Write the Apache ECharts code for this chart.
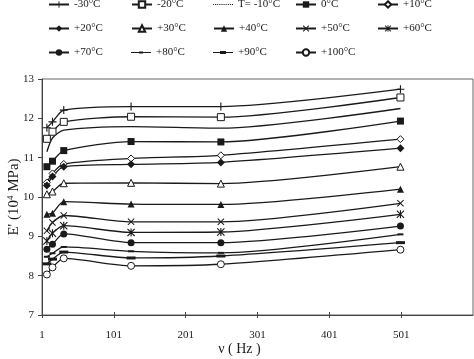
<!DOCTYPE html>
<html>
<head>
<meta charset="utf-8">
<script src="https://cdn.jsdelivr.net/npm/echarts@6/dist/echarts.min.js"></script>
<style>html,body{margin:0;padding:0;background:#fff}#c{width:474px;height:359px}</style>
</head>
<body>
<div id="c"></div>
<script>
// frequencies (Hz)
const freqs = [7.8, 15.6, 31.3, 125, 250, 500];
// E' values (10^4 MPa)
const m30 = [11.76, 11.91, 12.21, 12.30, 12.30, 12.74];
const m20 = [11.48, 11.66, 11.91, 12.04, 12.03, 12.53];
const m10 = [11.15, 11.50, 11.70, 11.79, 11.75, 12.25];
const t0  = [10.77, 10.91, 11.18, 11.41, 11.40, 11.93];
const p10 = [10.37, 10.60, 10.84, 10.98, 11.06, 11.47];
const p20 = [10.29, 10.52, 10.77, 10.83, 10.88, 11.24];
const p30 = [10.07, 10.14, 10.35, 10.36, 10.34, 10.77];
const p40 = [9.56, 9.59, 9.88, 9.82, 9.81, 10.20];
const p50 = [9.14, 9.35, 9.53, 9.37, 9.37, 9.84];
const p60 = [8.88, 9.08, 9.27, 9.10, 9.11, 9.56];
const p70 = [8.67, 8.80, 9.06, 8.84, 8.84, 9.26];
const p80 = [8.48, 8.57, 8.73, 8.62, 8.58, 9.05];
const p90 = [8.30, 8.42, 8.60, 8.45, 8.50, 8.84];
const p100 = [8.03, 8.21, 8.44, 8.25, 8.29, 8.66];
const xTickLabels = [1, 101, 201, 301, 401, 501];
const names = ['-30°C','-20°C','T= -10°C','0°C','+10°C','+20°C','+30°C','+40°C','+50°C','+60°C','+70°C','+80°C','+90°C','+100°C'];
const values = [m30,m20,m10,t0,p10,p20,p30,p40,p50,p60,p70,p80,p90,p100];

const INK = '#1a1a1a';
const plusPath = 'path://M4.3,0h1.4v10h-1.4zM0,4.3h10v1.4h-10z';
const xPath = 'path://M0,1L1,0L5,4L9,0L10,1L6,5L10,9L9,10L5,6L1,10L0,9L4,5Z';
const starPath = 'path://M0,1L1,0L5,4L9,0L10,1L6,5L10,9L9,10L5,6L1,10L0,9L4,5ZM4.3,0h1.4v10h-1.4z';
const dashS = 'path://M0,0h10v3h-10z';
const dashL = 'path://M0,0h10v4h-10z';
const marks = [
  {s: plusPath, z: 8, open: false},
  {s: 'rect', z: 7, open: true},
  {s: 'none', z: 0, open: false},
  {s: 'rect', z: 7, open: false},
  {s: 'diamond', z: 7, open: true},
  {s: 'diamond', z: 8, open: false},
  {s: 'triangle', z: 7, open: true},
  {s: 'triangle', z: 7, open: false},
  {s: xPath, z: 7, open: false},
  {s: starPath, z: 8, open: false},
  {s: 'circle', z: 7, open: false},
  {s: dashS, z: [6,2], open: false},
  {s: dashL, z: [9,3], open: false},
  {s: 'circle', z: 7, open: true}
];
// special legend icons (line drawn as part of icon)
const dottedIcon = 'path://' + Array.from({length: 10}, (_, i) => 'M' + (i * 2) + ',0h1v1h-1z').join('');
const legendIcons = {
  2: dottedIcon,
  11: 'path://M0,1h20v1h-20zM8,0.5h4v2h-4z',
  12: 'path://M0,1h20v1h-20zM7,0h6v3h-6z'
};

const series = names.map((n, i) => ({
  name: n,
  type: 'line',
  smooth: 0.25,
  data: freqs.map((f, k) => [f, values[i][k]]),
  symbol: marks[i].s,
  symbolSize: marks[i].z,
  showSymbol: marks[i].s !== 'none',
  lineStyle: {color: INK, width: 1.3},
  itemStyle: marks[i].open ? {color: '#fff', borderColor: INK, borderWidth: 1} : {color: INK, borderWidth: 0},
  emphasis: {disabled: true},
  animation: false,
  z: 3
}));

const font = 'Liberation Serif';
const colX = [48, 131, 213, 295, 377];
const rowY = [5, 29, 53];
const legends = names.map((n, k) => {
  const c = k % 5, r = Math.floor(k / 5);
  const item = legendIcons[k] ? {name: n, icon: legendIcons[k], itemStyle: {color: INK}} : {name: n};
  return {
    orient: 'horizontal',
    left: colX[c],
    top: rowY[r] - 6,
    padding: 0,
    itemWidth: 20,
    itemHeight: 8,
    selectedMode: false,
    textStyle: {fontFamily: font, fontSize: 11, color: INK},
    data: [item]
  };
});

const chart = echarts.init(document.getElementById('c'), null, {renderer: 'canvas'});
chart.setOption({
  animation: false,
  backgroundColor: '#fff',
  legend: legends,
  grid: {left: 42, right: 1, top: 79, bottom: 44, show: true, borderColor: '#666', borderWidth: 1,
         outerBoundsMode: 'none', containLabel: false},
  xAxis: [{
    type: 'value', min: 1, max: 601,
    name: 'ν ( Hz )', nameLocation: 'middle', nameGap: 27, nameMoveOverlap: false,
    nameTextStyle: {fontFamily: font, fontSize: 14, color: INK, padding: [0, 36, 0, 0]},
    axisLine: {lineStyle: {color: '#444', width: 1}},
    axisTick: {show: true, length: 3, customValues: xTickLabels, lineStyle: {color: '#444'}},
    axisLabel: {customValues: xTickLabels, fontFamily: font, fontSize: 11, color: INK, margin: 15},
    splitLine: {show: false}
  }, {
    type: 'value', min: 1, max: 601, position: 'bottom',
    axisLine: {show: false},
    axisTick: {show: true, inside: true, length: 3, customValues: xTickLabels, lineStyle: {color: '#444'}},
    axisLabel: {show: false},
    splitLine: {show: false}
  }],
  yAxis: {
    type: 'value', min: 7, max: 13, interval: 1,
    name: "E' (10{s|4} MPa)", nameLocation: 'middle', nameGap: 20, nameMoveOverlap: false,
    nameTextStyle: {fontFamily: font, fontSize: 15, color: INK,
      rich: {s: {fontFamily: font, fontSize: 9, color: INK, verticalAlign: 'top', padding: [0, 0, 7, 0]}}},
    axisLine: {show: true, lineStyle: {color: '#444', width: 1}},
    axisTick: {show: true, length: 4, lineStyle: {color: '#444'}},
    axisLabel: {fontFamily: font, fontSize: 11, color: INK, margin: 8},
    splitLine: {show: false}
  },
  series: series
});
</script>
</body>
</html>
